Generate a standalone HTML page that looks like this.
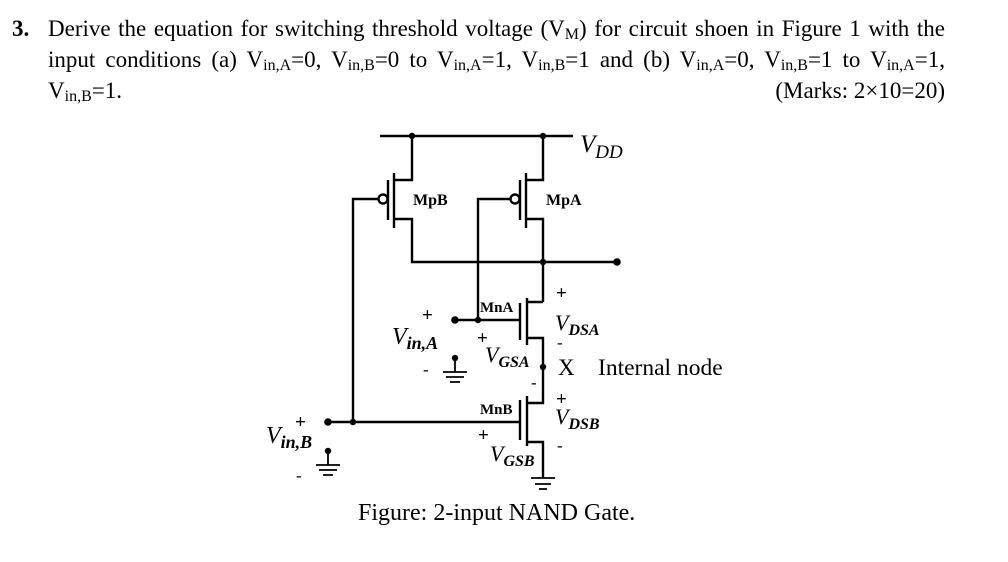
<!DOCTYPE html>
<html><head><meta charset="utf-8"><style>
body{margin:0;width:1008px;height:562px;background:#fff;position:relative;overflow:hidden;font-family:"Liberation Serif",serif;color:#000}
.q{position:absolute;left:48px;top:13px;width:897px;font-size:23px;line-height:31px;text-align:justify}
.q .l{display:block;text-align:justify;text-align-last:justify;white-space:nowrap}
sub{font-size:16px;vertical-align:-3px;line-height:0}
.n{position:absolute;left:12px;top:13px;font-size:23px;line-height:31px;font-weight:bold}
</style></head><body>
<div class="n">3.</div>
<div class="q">
<span class="l">Derive the equation for switching threshold voltage (V<sub>M</sub>) for circuit shoen in Figure 1 with the</span>
<span class="l">input conditions (a) V<sub>in,A</sub>=0, V<sub>in,B</sub>=0 to V<sub>in,A</sub>=1, V<sub>in,B</sub>=1 and (b) V<sub>in,A</sub>=0, V<sub>in,B</sub>=1 to V<sub>in,A</sub>=1,</span>
<span style="display:block;position:relative">V<sub>in,B</sub>=1.<span style="position:absolute;right:0">(Marks: 2×10=20)</span></span>
</div>
<svg width="1008" height="562" style="position:absolute;left:0;top:0" xmlns="http://www.w3.org/2000/svg">
<g stroke="#000" stroke-width="2.4" fill="none">
<path d="M380 136H573"/>
<path d="M412 136V180H394M394 173V228M388 180V220M394 219H412V262H617"/>
<circle cx="383" cy="199" r="4.5" fill="#fff"/>
<path d="M378 199H353V422"/>
<path d="M543 136V180H526M526 173V228M520 180V220M526 219H543V302"/>
<circle cx="515" cy="199" r="4.5" fill="#fff"/>
<path d="M510 199H478V320"/>
<path d="M543 302H527M527 298V345M520 303V340M455 320H520M527 338H543V403H527M527 396V446M520 400V440M328 422H520M527 442H543V478"/>
<path d="M531 478H555M535 484H551M539 489H547" stroke-width="1.8"/>
<path d="M455 360V372M443 372H467M446 377H464M450 382H460" stroke-width="1.8"/>
<path d="M328 453V465M316 465H340M319 470H337M323 475H333" stroke-width="1.8"/>
</g>
<g fill="#000">
<circle cx="412" cy="136" r="3.2"/><circle cx="543" cy="136" r="3.2"/>
<circle cx="543" cy="262" r="3.2"/><circle cx="617" cy="262" r="3.8"/>
<circle cx="455" cy="320" r="3.8"/><circle cx="478" cy="320" r="3.2"/>
<circle cx="543" cy="367" r="3.2"/><circle cx="328" cy="422" r="3.8"/><circle cx="353" cy="422" r="3.2"/>
<circle cx="455" cy="358" r="3.2"/><circle cx="328" cy="451" r="3.2"/>
</g>
<g font-family="Liberation Serif,serif" fill="#000">
<text x="580" y="152" font-size="25" font-style="italic">V<tspan font-size="19" dy="6">DD</tspan></text>
<text x="413" y="205" font-size="16" font-weight="bold">MpB</text>
<text x="546" y="205" font-size="16" font-weight="bold">MpA</text>
<text x="480" y="312" font-size="15" font-weight="bold">MnA</text>
<text x="480" y="414" font-size="15" font-weight="bold">MnB</text>
<text x="556" y="299" font-size="19" font-weight="bold">+</text>
<text x="555" y="330" font-size="22" font-style="italic">V<tspan font-size="16" dy="5" font-weight="bold">DSA</tspan></text>
<text x="557" y="348" font-size="17">-</text>
<text x="422" y="321" font-size="19" font-weight="bold">+</text>
<text x="392" y="344" font-size="24" font-style="italic">V<tspan font-size="18" dy="5" font-weight="bold">in,A</tspan></text>
<text x="423" y="375" font-size="17">-</text>
<text x="477" y="344" font-size="19" font-weight="bold">+</text>
<text x="485" y="362" font-size="22" font-style="italic">V<tspan font-size="16" dy="5" font-weight="bold">GSA</tspan></text>
<text x="558" y="375" font-size="23">X</text>
<text x="598" y="375" font-size="23.5">Internal node</text>
<text x="531" y="388" font-size="17">-</text>
<text x="556" y="405" font-size="19" font-weight="bold">+</text>
<text x="555" y="424" font-size="22" font-style="italic">V<tspan font-size="16" dy="5" font-weight="bold">DSB</tspan></text>
<text x="557" y="451" font-size="17">-</text>
<text x="478" y="441" font-size="19" font-weight="bold">+</text>
<text x="490" y="461" font-size="22" font-style="italic">V<tspan font-size="16" dy="5" font-weight="bold">GSB</tspan></text>
<text x="295" y="428" font-size="19" font-weight="bold">+</text>
<text x="266" y="443" font-size="24" font-style="italic">V<tspan font-size="18" dy="5" font-weight="bold">in,B</tspan></text>
<text x="296" y="481" font-size="17">-</text>
<text x="358" y="520" font-size="24">Figure: 2-input NAND Gate.</text>
</g>
</svg>
</body></html>
